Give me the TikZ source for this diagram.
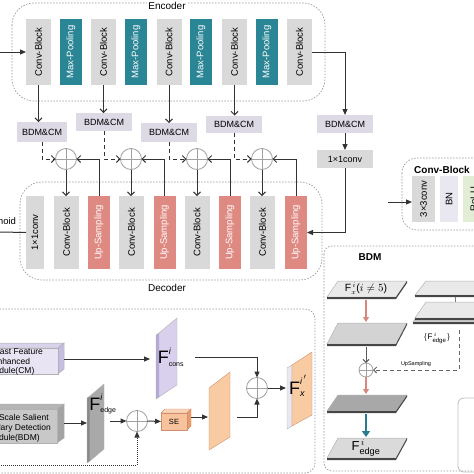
\documentclass[tikz,border=0pt]{standalone}
\usepackage{fontspec}
\setmainfont{Liberation Sans}
\usepackage{amsmath}
\usetikzlibrary{arrows.meta,calc}
\definecolor{cbgray}{HTML}{D9D9D9}
\definecolor{mpteal}{HTML}{2A8595}
\definecolor{upsalmon}{HTML}{DE8A82}
\definecolor{bcl}{HTML}{DDDAE6}
\definecolor{bnl}{HTML}{E9E7F0}
\definecolor{relug}{HTML}{E2EDD6}
\definecolor{circgray}{HTML}{A0A0A0}
\definecolor{lineclr}{HTML}{333333}
\definecolor{dboxclr}{HTML}{9A9A9A}
\definecolor{cmfront}{HTML}{E8E4F3}
\definecolor{cmtop}{HTML}{D8D2EA}
\definecolor{cmside}{HTML}{C6BDE0}
\definecolor{bdfront}{HTML}{C8C8C8}
\definecolor{bdtop}{HTML}{B5B5B5}
\definecolor{bdside}{HTML}{A3A3A3}
\definecolor{fcons}{HTML}{D8D0EC}
\definecolor{fstrip}{HTML}{B5A8DA}
\definecolor{fedge}{HTML}{A9A9A9}
\definecolor{fedgestrip}{HTML}{8A8A8A}
\definecolor{orangep}{HTML}{F9CBA3}
\definecolor{orangeedge}{HTML}{D09070}
\definecolor{sefront}{HTML}{F8C39C}
\definecolor{seside}{HTML}{EE9A66}
\definecolor{setop}{HTML}{FAD4B8}
\definecolor{redarrow}{HTML}{D9867E}
\definecolor{tealarrow}{HTML}{2A7A90}
\definecolor{slaba}{HTML}{E9E9E9}
\definecolor{slabb}{HTML}{D3D3D3}
\definecolor{slabc}{HTML}{A8A8A8}
\definecolor{slabd}{HTML}{DADADA}
\newcommand{\myfs}[1]{\fontsize{#1}{#1}\selectfont}
\newcommand{\myslab}[4]{%
  \filldraw[fill=#4, draw=gray!60, line width=0.5pt] ({#1+11},#2) -- ({#1+80},#2) -- ({#1+69},#3) -- (#1,#3) -- cycle;
  \fill[gray!55!black] (#1,#3) -- ({#1+69},#3) -- ({#1+80},#2) -- ({#1+80},{#2+2}) -- ({#1+69},{#3+2}) -- (#1,{#3+2}) -- cycle;
}
\begin{document}
\begin{tikzpicture}[x=1pt,y=-1pt,
  every node/.style={inner sep=0pt, outer sep=0pt},
  convb/.style={fill=cbgray, minimum width=25pt, font=\myfs{9.5}},
  maxp/.style={fill=mpteal, minimum width=22pt, text=white, font=\myfs{9.5}},
  upsm/.style={fill=upsalmon, minimum width=22pt, text=white, font=\myfs{9.5}},
  bdmcm/.style={fill=bcl, minimum width=56pt, minimum height=19pt, font=\myfs{9}},
  oplus/.style={circle, draw=circgray, fill=white, line width=0.8pt, minimum size=21pt,
    path picture={\draw[circgray, line width=0.8pt] (path picture bounding box.north) -- (path picture bounding box.south) (path picture bounding box.west) -- (path picture bounding box.east);}},
  dbox/.style={draw=dboxclr, line width=0.7pt, dash pattern=on 1.5pt off 1.5pt},
  ln/.style={draw=lineclr, line width=1pt},
  barb/.style={ln, -{Straight Barb[length=3.5pt,width=7pt]}},
  arr/.style={ln, -{Triangle[length=6pt,width=5pt]}},
  dsh/.style={ln, dash pattern=on 4pt off 3pt, -{Straight Barb[length=3.5pt,width=7pt]}},
]
\useasboundingbox (0,0) rectangle (474,474);

% ---------------- Encoder ----------------
\draw[dbox, rounded corners=22pt] (12,3) rectangle (325,101);
\node[fill=white, inner sep=1.5pt, font=\myfs{10}] (enc) at (167,6) {Encoder};
\node[convb, minimum height=66pt] (e1) at (38.5,52) {\rotatebox{90}{Conv-Block}};
\node[maxp, minimum height=66pt] (m1) at (71,52) {\rotatebox{90}{Max-Pooling}};
\node[convb, minimum height=66pt] (e2) at (103.5,52) {\rotatebox{90}{Conv-Block}};
\node[maxp, minimum height=66pt] (m2) at (136,52) {\rotatebox{90}{Max-Pooling}};
\node[convb, minimum height=66pt] (e3) at (169,52) {\rotatebox{90}{Conv-Block}};
\node[maxp, minimum height=66pt] (m3) at (201,52) {\rotatebox{90}{Max-Pooling}};
\node[convb, minimum height=66pt] (e4) at (234.5,52) {\rotatebox{90}{Conv-Block}};
\node[maxp, minimum height=66pt] (m4) at (267,52) {\rotatebox{90}{Max-Pooling}};
\node[convb, minimum height=66pt] (e5) at (299.5,52) {\rotatebox{90}{Conv-Block}};
\coordinate (in) at (0,52);
\draw[arr] (in) -- (e1.west);

% ---------------- BDM&CM ----------------
\node[bdmcm, minimum width=50pt, minimum height=20pt] (b1) at (42,132) {BDM\&CM};
\node[bdmcm, minimum height=18pt] (b2) at (104,122) {BDM\&CM};
\node[bdmcm] (b3) at (169,132.5) {BDM\&CM};
\node[bdmcm, minimum height=17pt] (b4) at (234,124) {BDM\&CM};
\node[bdmcm, minimum height=18pt] (b5) at (345,124) {BDM\&CM};
\node[fill=cbgray, minimum width=56pt, minimum height=18pt, font=\myfs{9}] (c5) at (345,159) {1×1conv};

\node[oplus] (o1) at (66,159) {};
\node[oplus] (o2) at (131,159) {};
\node[oplus] (o3) at (197,159) {};
\node[oplus] (o4) at (262,159) {};

% ---------------- Decoder ----------------
\draw[dbox, rounded corners=22pt] (20,182) rectangle (322,280);
\node[font=\myfs{10}] (dec) at (167,288) {Decoder};
\node[fill=cbgray, minimum width=18pt, minimum height=73pt, font=\myfs{9.5}] (d0) at (35,232.5) {\rotatebox{90}{1×1conv}};
\node[convb, minimum height=73pt] (d1) at (66.5,232.5) {\rotatebox{90}{Conv-Block}};
\node[upsm, minimum height=73pt] (u1) at (99,232.5) {\rotatebox{90}{Up-Sampling}};
\node[convb, minimum height=73pt] (d2) at (131.5,232.5) {\rotatebox{90}{Conv-Block}};
\node[upsm, minimum height=73pt] (u2) at (164.5,232.5) {\rotatebox{90}{Up-Sampling}};
\node[convb, minimum height=73pt] (d3) at (197,232.5) {\rotatebox{90}{Conv-Block}};
\node[upsm, minimum height=73pt] (u3) at (230,232.5) {\rotatebox{90}{Up-Sampling}};
\node[convb, minimum height=73pt] (d4) at (262.5,232.5) {\rotatebox{90}{Conv-Block}};
\node[upsm, minimum height=73pt] (u4) at (296,232.5) {\rotatebox{90}{Up-Sampling}};
\node[anchor=east, font=\myfs{9.5}] (sgt) at (16,222) {Sigmoid};
\coordinate (sg) at (0,232);
\draw[ln] (d0.west) -- (sg);

\foreach \i in {1,...,4} {
  \draw[barb] (e\i.south) -- (e\i.south |- b\i.north);
  \draw[dsh] (b\i.south) |- (o\i.west);
  \draw[barb] (u\i.north) |- (o\i.east);
  \draw[barb] (o\i.south) -- (o\i.south |- d\i.north);
}
\draw[arr] (e5.east) -| (b5.north);
\draw[arr] (b5.south) -- (c5.north);
\draw[arr] (c5.south) |- (u4.east);

% ---------------- Conv-Block detail ----------------
\draw[dbox, rounded corners=15pt] (402,158) rectangle (510,230);
\node[font=\bfseries\myfs{10}] (cbt) at (442,170) {Conv-Block};
\node[fill=cbgray, minimum width=23pt, minimum height=46pt, font=\myfs{9.5}] (k1) at (423.5,199) {\rotatebox{90}{3×3conv}};
\node[fill=bnl, minimum width=18pt, minimum height=46pt, font=\myfs{9.5}] (k2) at (449,199) {\rotatebox{90}{BN}};
\node[fill=relug, minimum width=22pt, minimum height=46pt, font=\myfs{9.5}] (k3) at (474,199) {\rotatebox{90}{ReLU}};
\coordinate (kin) at (388,202);
\draw[arr] (kin) -- (kin -| k1.west);

% ---------------- BDM detail ----------------
\draw[dbox, rounded corners=8pt] (324,246) rectangle (510,471);
\node[font=\bfseries\myfs{10}] (bdmt) at (370,257) {BDM};
\myslab{327}{281}{297}{slaba}
\myslab{327}{323}{344}{slabb}
\myslab{327}{395}{411}{slabc}
\myslab{327}{438}{458}{slabd}
\myslab{415}{281}{295}{slaba}
\myslab{413}{306}{322}{slabb}
\myslab{415}{302}{318}{slaba}
\draw[gray, line width=0.8pt] (455,297) -- (455,302);
\node[font=\myfs{10.5}] (sx) at (366,289) {F$^{\,i}_{x}$($i\neq 5$)};
\node[font=\myfs{13}] (sedge) at (366,448) {$\mathrm{F}^{\,i}_{\mathrm{edge}}$};
\node[font=\myfs{8}] (sset) at (437,338) {$\{\mathrm{F}^{\,i}_{\mathrm{edge}}\}$};
\node[oplus, minimum size=14pt] (bo) at (366,370) {};
\coordinate (t1a) at (366,300); \coordinate (t1b) at (366,322);
\coordinate (t2a) at (366,347);
\coordinate (t3b) at (366,394);
\coordinate (t4a) at (366,414); \coordinate (t4b) at (366,437);
\coordinate (uin) at (459,330);
\draw[redarrow, line width=1.8pt, -{Triangle[length=5pt,width=6pt]}] (t1a) -- (t1b);
\draw[gray!70!black, line width=1pt, -{Straight Barb[length=3pt,width=6pt]}] (t2a) -- (bo.north);
\draw[redarrow, line width=1.8pt, -{Triangle[length=5pt,width=6pt]}] (bo.south) -- (t3b);
\draw[tealarrow, line width=2.6pt, -{Triangle[length=6pt,width=8pt]}] (t4a) -- (t4b);
\draw[gray!80!black, line width=1pt, dash pattern=on 4pt off 3pt, -{Straight Barb[length=3pt,width=6pt]}] (uin) |- (bo.east);
\node[font=\myfs{5.5}] (ups) at (416,364) {UpSampling};
\draw[gray!50, line width=0.8pt, rounded corners=6pt] (458,398) rectangle (520,472);

% ---------------- Bottom-left module ----------------
\draw[dbox, rounded corners=10pt] (-20,309) rectangle (315,473);
% CM box
\filldraw[fill=cmtop, draw=gray!60, line width=0.5pt] (-40,348) -- (58,348) -- (64,343) -- (-34,343) -- cycle;
\filldraw[fill=cmside, draw=gray!60, line width=0.5pt] (58,348) -- (64,343) -- (64,369) -- (58,374) -- cycle;
\node[fill=cmfront, draw=gray!60, line width=0.5pt, minimum width=98pt, minimum height=26pt] (cm) at (9,361) {};
\node[align=center, font=\fontsize{8.5}{9.3}\selectfont] (cmt) at (11,362) {Contrast Feature\\Enhanced\\Module(CM)};
% BDM box
\filldraw[fill=bdtop, draw=gray!60, line width=0.5pt] (-40,409) -- (57,409) -- (64,404) -- (-33,404) -- cycle;
\filldraw[fill=bdside, draw=gray!60, line width=0.5pt] (57,409) -- (64,404) -- (64,438) -- (57,443) -- cycle;
\node[fill=bdfront, draw=gray!60, line width=0.5pt, minimum width=97pt, minimum height=34pt] (bd) at (8.5,426) {};
\node[align=center, font=\fontsize{8.5}{10}\selectfont] (bdt) at (13.5,428) {Multi-Scale Salient\\Boundary Detection\\Module(BDM)};
% F_cons plane
\filldraw[fill=fstrip, draw=gray!60, line width=0.4pt] (156,335) -- (159,333) -- (159,397) -- (156,399) -- cycle;
\filldraw[fill=fcons, draw=gray!60, line width=0.4pt] (159,333) -- (177,318) -- (177,385) -- (159,397) -- cycle;
\node (fct) at (171,357) {$\text{\myfs{18}F}^{\text{\myfs{9}\itshape i}}_{\text{\myfs{7}cons}}$};
% F_edge plane
\filldraw[fill=fedgestrip, draw=gray!60, line width=0.4pt] (87,398) -- (90,396) -- (90,461) -- (87,463) -- cycle;
\filldraw[fill=fedge, draw=gray!60, line width=0.4pt] (90,396) -- (104,384) -- (104,449) -- (90,461) -- cycle;
\node (fet) at (103,404) {$\text{\myfs{18}F}^{\text{\myfs{9}\itshape i}}_{\text{\myfs{7}edge}}$};
% orange plane
\filldraw[fill=orangep, draw=orangeedge, line width=0.4pt] (209,388) -- (230,372) -- (230,437) -- (209,450) -- cycle;
% F_x' plane
\filldraw[fill=bnl, draw=gray!60, line width=0.4pt] (287,368) -- (292,365) -- (292,426) -- (287,429) -- cycle;
\filldraw[fill=orangep, draw=orangeedge, line width=0.4pt] (292,365) -- (312,352) -- (312,415) -- (292,426) -- cycle;
\node (fxt) at (298,386) {$\text{\myfs{18}F}^{\text{\myfs{9}\itshape i}\,\text{\myfs{12}$'$}}_{\text{\myfs{9}\itshape x}}$};
% SE
\filldraw[fill=setop, draw=orangeedge, line width=0.4pt] (161,413) -- (165,409) -- (191,409) -- (187,413) -- cycle;
\filldraw[fill=seside, draw=orangeedge, line width=0.4pt] (187,413) -- (191,409) -- (191,426) -- (187,430) -- cycle;
\node[fill=sefront, draw=orangeedge, line width=0.4pt, minimum width=26pt, minimum height=17pt, font=\myfs{7.5}] (se) at (174,421.5) {SE};
% circles
\node[oplus] (s1) at (257,388) {};
\node[oplus] (s2) at (137,421) {};
% connectors
\coordinate (cmr) at (64,359); \coordinate (fcl) at (150,359);
\coordinate (bdr) at (64,423); \coordinate (fel) at (87,423);
\coordinate (fcr) at (195,357);
\coordinate (fxl) at (286,388);
\coordinate (fer) at (110,421);
\coordinate (dl) at (-5,465);
\coordinate (ser) at (191,417); \coordinate (orl) at (208,417);
\coordinate (orr) at (237,417);
\draw[arr] (cmr) -- (fcl);
\draw[arr] (bdr) -- (fel);
\draw[arr] (fcr) -| (s1.north);
\draw[arr] (s1.east) -- (fxl);
\draw[arr] (fer) -- (s2.west);
\draw[ln, dash pattern=on 1pt off 1pt, -{Triangle[length=6pt,width=5pt]}] (dl) -| (s2.south);
\draw[arr] (s2.east) -- (se.west);
\draw[arr] (ser) -- (orl);
\draw[arr] (orr) -| (s1.south);
\end{tikzpicture}
\end{document}
